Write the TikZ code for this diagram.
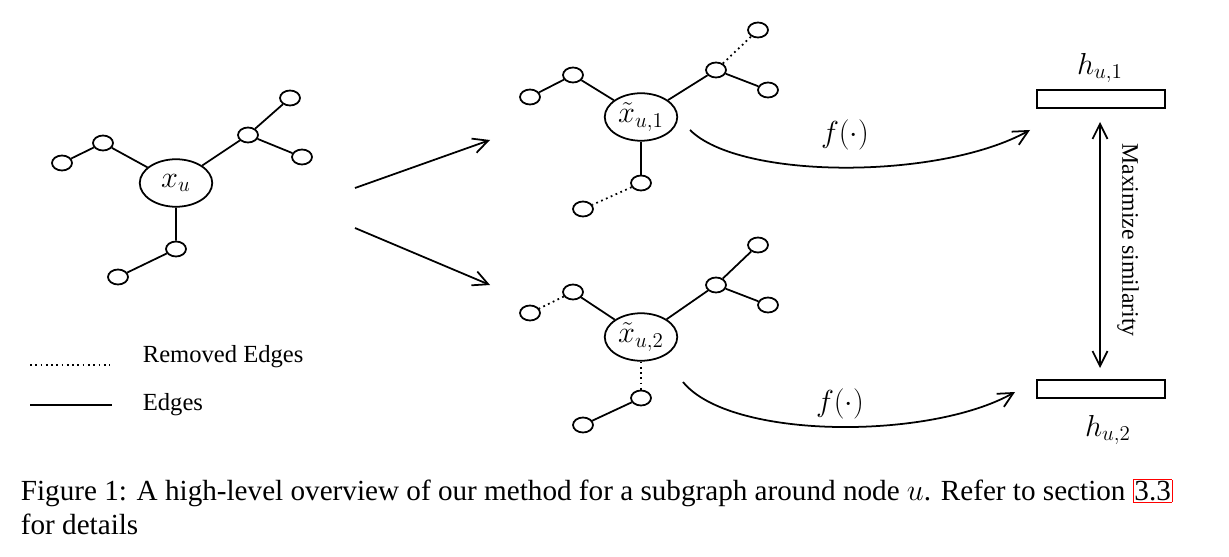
\documentclass[tikz,border=0pt]{standalone}
\usepackage{fontspec}
\setmainfont{Liberation Serif}
\usepackage{amsmath}
\usetikzlibrary{shapes.geometric,arrows.meta}
\begin{document}
\begin{tikzpicture}[x=0.02cm,y=-0.02cm,line width=1pt,
 sn/.style={draw,ellipse,minimum width=0.4cm,minimum height=0.3cm,inner sep=0},
 bn/.style={draw,ellipse,minimum width=1.45cm,minimum height=0.95cm,inner sep=0,font=\fontsize{17}{20}\selectfont},
 e/.style={},
 re/.style={dotted},
 arr/.style={-{Straight Barb[length=3mm,width=3mm]}},
 box/.style={draw,minimum width=2.56cm,minimum height=0.36cm,inner sep=0},
 lab/.style={font=\fontsize{18}{20}\selectfont},
 txt/.style={font=\fontsize{16.6}{19}\selectfont,anchor=west,inner sep=0}]
\useasboundingbox (0,0) rectangle (1229,557);
% left graph
\node[bn] (xu) at (176,183) {$x_u$};
\node[sn] (a1) at (103,143) {}; \node[sn] (a2) at (62,163) {};
\node[sn] (b1) at (248,135) {}; \node[sn] (b2) at (290,98) {}; \node[sn] (b3) at (302,157) {};
\node[sn] (c1) at (176,249) {}; \node[sn] (c2) at (118,277) {};
\draw[e] (xu)--(a1)--(a2); \draw[e] (xu)--(b1)--(b2); \draw[e] (b1)--(b3);
\draw[e] (xu)--(c1)--(c2);
% top graph
\node[bn] (t) at (641,117) {$\tilde{x}_{u,1}$};
\node[sn] (t1) at (573,75) {}; \node[sn] (t2) at (530,97) {};
\node[sn] (t3) at (716,70) {}; \node[sn] (t4) at (758,30) {}; \node[sn] (t5) at (768,90) {};
\node[sn] (t6) at (641,183) {}; \node[sn] (t7) at (583,209) {};
\draw[e] (t)--(t1)--(t2); \draw[e] (t)--(t3)--(t5); \draw[re] (t3)--(t4);
\draw[e] (t)--(t6); \draw[re] (t6)--(t7);
% bottom graph
\node[bn] (s) at (641,337) {$\tilde{x}_{u,2}$};
\node[sn] (s1) at (573,292) {}; \node[sn] (s2) at (530,313) {};
\node[sn] (s3) at (716,285) {}; \node[sn] (s4) at (758,245) {}; \node[sn] (s5) at (768,305) {};
\node[sn] (s6) at (641,398) {}; \node[sn] (s7) at (583,425) {};
\draw[e] (s)--(s1); \draw[re] (s1)--(s2); \draw[e] (s)--(s3)--(s4); \draw[e] (s3)--(s5);
\draw[re] (s)--(s6); \draw[e] (s6)--(s7);
% arrows
\coordinate (p1) at (355,188); \coordinate (q1) at (490,140);
\coordinate (p2) at (355,228); \coordinate (q2) at (490,285);
\draw[arr] (p1)--(q1); \draw[arr] (p2)--(q2);
% boxes
\node[box] (h1) at (1101,99) {};
\node[box] (h2) at (1101,389) {};
\node[lab] at (1100,68) {$h_{u,1}$};
\node[lab] at (1108,430) {$h_{u,2}$};
\draw[arr] (690,130) .. controls (740,180) and (940,180) .. (1030,130);
\node[lab] at (845,135) {$f(\cdot)$};
\draw[arr] (683,382) .. controls (730,440) and (930,440) .. (1015,392);
\node[lab] at (840,404) {$f(\cdot)$};
\draw[{Straight Barb[length=3mm,width=3mm]}-{Straight Barb[length=3mm,width=3mm]}] (1100,122)--(1100,368);
\node[rotate=-90,font=\fontsize{13.5}{15}\selectfont] at (1128,240) {Maximize similarity};
% legend
\coordinate (l1) at (30,365); \coordinate (l2) at (110,365);
\coordinate (l3) at (30,405); \coordinate (l4) at (112,405);
\draw[re] (l1)--(l2); \draw[e] (l3)--(l4);
\node[txt,font=\fontsize{14}{15}\selectfont] at (142,357) {Removed Edges};
\node[txt,font=\fontsize{14}{15}\selectfont] at (142,405) {Edges};
% caption
\node[txt] at (20,493) {Figure 1: A high-level overview of our method for a subgraph around node $u$. Refer to section {\setlength{\fboxsep}{0.5pt}\fcolorbox{red}{white}{3.3}}};
\node[txt] at (20,524) {for details};
\end{tikzpicture}
\end{document}
